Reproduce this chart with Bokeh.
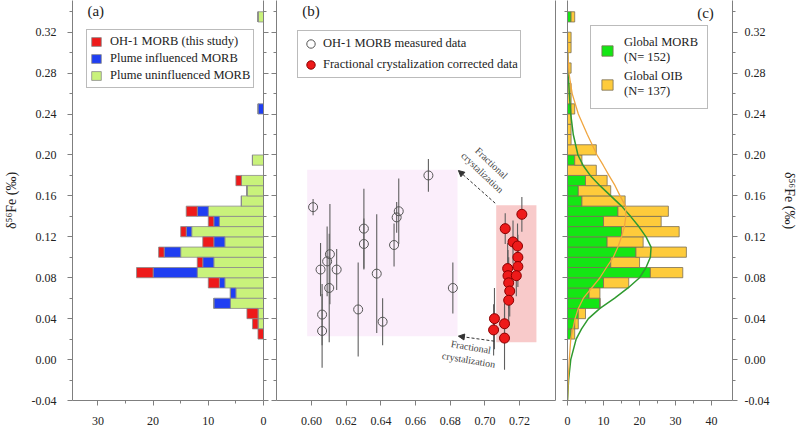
import numpy as np
from bokeh.plotting import figure
from bokeh.models import (Range1d, LinearAxis, FixedTicker, NumeralTickFormatter, CustomJSTickFormatter,
                          ColumnDataSource, Legend, LegendItem, Arrow, NormalHead, Label)
from bokeh.layouts import row
from bokeh.embed import file_html
from bokeh.resources import INLINE

# ---------------- data ----------------
# histogram bins (lower edges, width 0.01 permil)
bin_lower = [0.02, 0.03, 0.04, 0.05, 0.06, 0.07, 0.08, 0.09, 0.10, 0.11, 0.12, 0.13, 0.14, 0.15, 0.16, 0.17,
             0.18, 0.19, 0.20, 0.21, 0.22, 0.23, 0.24, 0.25, 0.26, 0.27, 0.28, 0.29, 0.30, 0.31, 0.32, 0.33]
bin_width = 0.01

# panel (a) counts
oh1_morb     = [1, 1, 2, 0, 0, 2, 3, 1, 1, 2, 1, 1, 2, 0, 0, 1, 0, 0, 0, 0, 0, 0, 0, 0, 0, 0, 0, 0, 0, 0, 0, 0]
plume_infl   = [0, 0, 0, 3, 1, 1, 8, 2, 3, 2, 1, 1, 2, 0, 0, 0, 0, 0, 0, 0, 0, 0, 1, 0, 0, 0, 0, 0, 0, 0, 0, 0]
plume_uninfl = [0, 1, 1, 6, 5, 7, 12, 9, 15, 7, 13, 8, 10, 4, 3, 4, 0, 2, 0, 0, 0, 0, 0, 0, 0, 0, 0, 0, 0, 0, 0, 1]

# panel (c) counts
global_morb = [1, 2, 3, 9, 6, 10, 23, 12, 19, 11, 15, 10, 14, 4, 3, 5, 0, 2, 0, 0, 0, 0, 1, 0, 0, 0, 0, 0, 0, 0, 0, 1]
global_oib  = [1, 1, 2, 0, 3, 7, 9, 8, 14, 10, 16, 16, 14, 12, 9, 6, 8, 2, 8, 1, 1, 1, 1, 1, 1, 0, 1, 0, 1, 1, 0, 1]

# panel (c) fitted curves
morb_curve_y = [-0.04, -0.02, 0.00, 0.02, 0.03, 0.04, 0.05, 0.06, 0.07, 0.08, 0.09, 0.10, 0.11, 0.12, 0.13,
                0.14, 0.15, 0.16, 0.17, 0.18, 0.19, 0.20, 0.22, 0.24, 0.26, 0.28, 0.30]
morb_curve_x = [0.0, 0.3, 0.9, 2.4, 3.9, 5.8, 9.0, 13.1, 16.8, 20.0, 21.8, 23.0, 23.2, 21.8, 19.8,
                17.5, 15.0, 12.0, 9.0, 6.3, 4.3, 2.9, 1.6, 0.9, 0.5, 0.2, 0.05]
oib_curve_y = [-0.04, -0.02, 0.00, 0.02, 0.04, 0.05, 0.06, 0.07, 0.08, 0.09, 0.10, 0.11, 0.12, 0.13, 0.14,
               0.15, 0.16, 0.17, 0.18, 0.19, 0.20, 0.22, 0.24, 0.26, 0.28, 0.30, 0.32]
oib_curve_x = [0.0, 0.2, 0.5, 0.9, 2.1, 3.0, 4.4, 6.7, 9.0, 10.8, 12.7, 14.0, 15.0, 15.8, 16.2,
               16.1, 14.6, 13.2, 11.5, 9.9, 8.2, 5.5, 3.0, 1.3, 0.4, 0.1, 0.0]

# panel (b) OH-1 MORB measured data
meas_x   = [0.6009, 0.6106, 0.6090, 0.6052, 0.6145, 0.6102, 0.6061, 0.6061, 0.6269, 0.6302, 0.6302,
            0.6376, 0.6410, 0.6476, 0.6491, 0.6503, 0.6815, 0.6674]
meas_y   = [0.149, 0.103, 0.096, 0.088, 0.088, 0.070, 0.044, 0.028, 0.049, 0.128, 0.113,
            0.084, 0.037, 0.112, 0.139, 0.145, 0.070, 0.180]
meas_err = [0.008, 0.049, 0.034, 0.026, 0.020, 0.053, 0.030, 0.036, 0.046, 0.039, 0.025,
            0.058, 0.023, 0.021, 0.015, 0.032, 0.025, 0.016]
# panel (b) fractional-crystallization corrected data
corr_x   = [0.7213, 0.7117, 0.7162, 0.7188, 0.7190, 0.7131, 0.7190, 0.7133, 0.7181, 0.7137, 0.7143,
            0.7137, 0.7055, 0.7050, 0.7113, 0.7113]
corr_y   = [0.142, 0.128, 0.115, 0.111, 0.100, 0.089, 0.091, 0.082, 0.082, 0.075, 0.067,
            0.058, 0.040, 0.029, 0.035, 0.021]
corr_err = [0.017, 0.015, 0.021, 0.022, 0.022, 0.025, 0.020, 0.025, 0.020, 0.025, 0.025,
            0.025, 0.030, 0.025, 0.020, 0.031]
# shaded fields [left, right, bottom, top]
field_meas = [0.5975, 0.6842, 0.0229, 0.1855]
field_corr = [0.7065, 0.7297, 0.0170, 0.1509]

# tick values
y_ticks = [-0.04, 0.00, 0.04, 0.08, 0.12, 0.16, 0.20, 0.24, 0.28, 0.32]
y_minor = [-0.02, 0.02, 0.06, 0.10, 0.14, 0.18, 0.22, 0.26, 0.30, 0.34]
a_ticks = [0, 10, 20, 30]
a_minor = [5, 15, 25]
b_ticks = [0.60, 0.62, 0.64, 0.66, 0.68, 0.70, 0.72]
c_ticks = [0, 10, 20, 30, 40]
c_minor = [5, 15, 25, 35]

# ---------------- style ----------------
FONT = "Liberation Serif"
AX = "#7f7f7f"
TXT = "#222222"
RED = "#ee1a1a"
BLUE = "#1f3ef2"
LGREEN = "#c9f27b"
GGREEN = "#14e614"
YELLOW = "#fecb3b"
YR = (-0.04, 0.351)
H = 445
YLABEL = "δ⁵⁶Fe (‰)"


def style_axis(ax, labels=True, tick_out=5, minor_out=3, standoff=10):
    ax.axis_line_color = AX
    ax.major_tick_line_color = AX
    ax.minor_tick_line_color = AX
    ax.major_tick_in = 0
    ax.minor_tick_in = 0
    ax.major_tick_out = tick_out
    ax.minor_tick_out = minor_out
    ax.major_label_text_font = FONT
    ax.major_label_text_color = TXT
    ax.major_label_text_font_size = "12px"
    if labels:
        ax.major_label_standoff = standoff
    else:
        ax.formatter = CustomJSTickFormatter(code="return ''")
        ax.major_label_standoff = 0


def style_title(ax):
    ax.axis_label = YLABEL
    ax.axis_label_text_font = FONT
    ax.axis_label_text_font_size = "14px"
    ax.axis_label_text_font_style = "normal"
    ax.axis_label_text_color = TXT
    ax.axis_label_standoff = 10


def base_fig(width, xr, bl, br):
    p = figure(width=width, height=H, x_range=xr, y_range=Range1d(*YR),
               output_backend="svg", toolbar_location=None,
               min_border_left=bl, min_border_right=br, min_border_top=0, min_border_bottom=45)
    p.outline_line_color = None
    p.xgrid.visible = False
    p.ygrid.visible = False
    p.background_fill_color = "white"
    p.border_fill_color = "white"
    return p


bin_mid = list(np.array(bin_lower) + bin_width / 2)

# ================= panel (a) =================
pA = base_fig(269, Range1d(34.6, 0), 71, 6)
srcA = ColumnDataSource(dict(y=bin_mid, uninfl=plume_uninfl, plume=plume_infl, oh1=oh1_morb))
rA = pA.hbar_stack(["uninfl", "plume", "oh1"], y="y", height=bin_width, source=srcA,
                   fill_color=[LGREEN, BLUE, RED], line_color="#8a8a8a", line_width=0.8)
pA.xaxis.ticker = FixedTicker(ticks=a_ticks, minor_ticks=a_minor)
style_axis(pA.xaxis[0], standoff=11)
pA.yaxis.ticker = FixedTicker(ticks=y_ticks, minor_ticks=y_minor)
pA.yaxis.formatter = NumeralTickFormatter(format="0.00")
style_axis(pA.yaxis[0], standoff=11)
style_title(pA.yaxis[0])
axAr = LinearAxis(ticker=FixedTicker(ticks=y_ticks, minor_ticks=y_minor))
style_axis(axAr, labels=False)
pA.add_layout(axAr, "right")
legA = Legend(items=[LegendItem(label="OH-1 MORB (this study)", renderers=[rA[2]]),
                     LegendItem(label="Plume influenced MORB", renderers=[rA[1]]),
                     LegendItem(label="Plume uninfluenced MORB", renderers=[rA[0]])],
              location=(14, 312), margin=0, padding=3, spacing=0,
              glyph_width=12, glyph_height=11, label_height=17, label_standoff=8,
              label_text_font=FONT, label_text_font_size="12.5px", label_text_color=TXT,
              border_line_color="#777777", border_line_width=1, background_fill_alpha=1)
pA.add_layout(legA)
pA.add_layout(Label(x=31.9, y=0.349, text="(a)", text_baseline="top", text_align="left",
                    text_font=FONT, text_font_size="15px", text_color=TXT))

# ================= panel (b) =================
pB = base_fig(292, Range1d(0.5798, 0.7407), 7, 6)
pB.quad(left=[field_meas[0]], right=[field_meas[1]], bottom=[field_meas[2]], top=[field_meas[3]],
        fill_color="#fbeefb", line_color=None)
pB.quad(left=[field_corr[0]], right=[field_corr[1]], bottom=[field_corr[2]], top=[field_corr[3]],
        fill_color="#f8caca", line_color=None)
srcM = ColumnDataSource(dict(x=meas_x, y=meas_y,
                             lo=list(np.array(meas_y) - np.array(meas_err)),
                             hi=list(np.array(meas_y) + np.array(meas_err))))
srcC = ColumnDataSource(dict(x=corr_x, y=corr_y,
                             lo=list(np.array(corr_y) - np.array(corr_err)),
                             hi=list(np.array(corr_y) + np.array(corr_err))))
pB.segment(x0="x", y0="lo", x1="x", y1="hi", source=srcM, line_color="#5f5f5f", line_width=1.1)
pB.segment(x0="x", y0="lo", x1="x", y1="hi", source=srcC, line_color="#5f5f5f", line_width=1.1)
rMeas = pB.scatter(x="x", y="y", source=srcM, size=9, marker="circle",
                   fill_color=None, line_color="#555555", line_width=1)
rCorr = pB.scatter(x="x", y="y", source=srcC, size=10, marker="circle",
                   fill_color=RED, line_color="#8a0000", line_width=1)

# annotation arrows
arrow_up = [0.7059, 0.1529, 0.6847, 0.1848]
arrow_dn = [0.7054, 0.0180, 0.6847, 0.0229]
for a in (arrow_up, arrow_dn):
    pB.add_layout(Arrow(end=NormalHead(size=6, fill_color="#333333", line_color="#333333"),
                        x_start=a[0], y_start=a[1], x_end=a[2], y_end=a[3],
                        line_color="#333333", line_width=1, line_dash="3 2"))
pB.add_layout(Label(x=0.7012, y=0.1875, text="Fractional\ncrystalization", angle=-0.76,
                    text_align="center", text_baseline="middle", text_font=FONT,
                    text_font_size="10px", text_color="#444444"))
pB.add_layout(Label(x=0.6913, y=0.0060, text="Fractional\ncrystalization", angle=-0.17,
                    text_align="center", text_baseline="middle", text_font=FONT,
                    text_font_size="10px", text_color="#444444"))

pB.xaxis.ticker = FixedTicker(ticks=b_ticks, minor_ticks=[])
pB.xaxis.formatter = NumeralTickFormatter(format="0.00")
style_axis(pB.xaxis[0], standoff=11)
pB.yaxis.ticker = FixedTicker(ticks=y_ticks, minor_ticks=y_minor)
style_axis(pB.yaxis[0], labels=False)
axBr = LinearAxis(ticker=FixedTicker(ticks=[], minor_ticks=[]))
style_axis(axBr, labels=False, tick_out=0, minor_out=0)
pB.add_layout(axBr, "right")
legB = Legend(items=[LegendItem(label="OH-1 MORB measured data", renderers=[rMeas]),
                     LegendItem(label="Fractional crystalization corrected data", renderers=[rCorr])],
              location=(21, 322), margin=0, padding=2, spacing=0,
              glyph_width=21, glyph_height=21, label_height=21, label_standoff=2,
              label_text_font=FONT, label_text_font_size="12.5px", label_text_color=TXT,
              border_line_color="#777777", border_line_width=1, background_fill_alpha=1)
pB.add_layout(legB)
pB.add_layout(Label(x=0.5946, y=0.349, text="(b)", text_baseline="top", text_align="left",
                    text_font=FONT, text_font_size="15px", text_color=TXT))

# ================= panel (c) =================
pC = base_fig(239, Range1d(0, 45.8), 6, 67)
srcCc = ColumnDataSource(dict(y=bin_mid, morb=global_morb, oib=global_oib))
rC = pC.hbar_stack(["morb", "oib"], y="y", height=bin_width, source=srcCc,
                   fill_color=[GGREEN, YELLOW], line_color="#7a6e55", line_width=0.8)
pC.line(x=morb_curve_x, y=morb_curve_y, line_color="#2f9a2f", line_width=1.5)
pC.line(x=oib_curve_x, y=oib_curve_y, line_color="#f0a640", line_width=1.3)
pC.xaxis.ticker = FixedTicker(ticks=c_ticks, minor_ticks=c_minor)
style_axis(pC.xaxis[0], standoff=11)
pC.yaxis.ticker = FixedTicker(ticks=y_ticks, minor_ticks=y_minor)
style_axis(pC.yaxis[0], labels=False)
axCr = LinearAxis(ticker=FixedTicker(ticks=y_ticks, minor_ticks=y_minor),
                  formatter=NumeralTickFormatter(format="0.00"))
style_axis(axCr, standoff=7)
style_title(axCr)
pC.add_layout(axCr, "right")
legC = Legend(items=[LegendItem(label="Global MORB\n(N= 152)", renderers=[rC[0]]),
                     LegendItem(label="Global OIB\n(N= 137)", renderers=[rC[1]])],
              location=(23, 291), margin=0, padding=9, spacing=4,
              glyph_width=14, glyph_height=13, label_standoff=10,
              label_text_font=FONT, label_text_font_size="12.5px", label_text_color=TXT,
              border_line_color="#777777", border_line_width=1, background_fill_alpha=1)
pC.add_layout(legC)
pC.add_layout(Label(x=36.0, y=0.3466, text="(c)", text_baseline="top", text_align="left",
                    text_font=FONT, text_font_size="15px", text_color=TXT))

layout = row(pA, pB, pC)
open("out.html", "w").write(file_html(layout, INLINE))
